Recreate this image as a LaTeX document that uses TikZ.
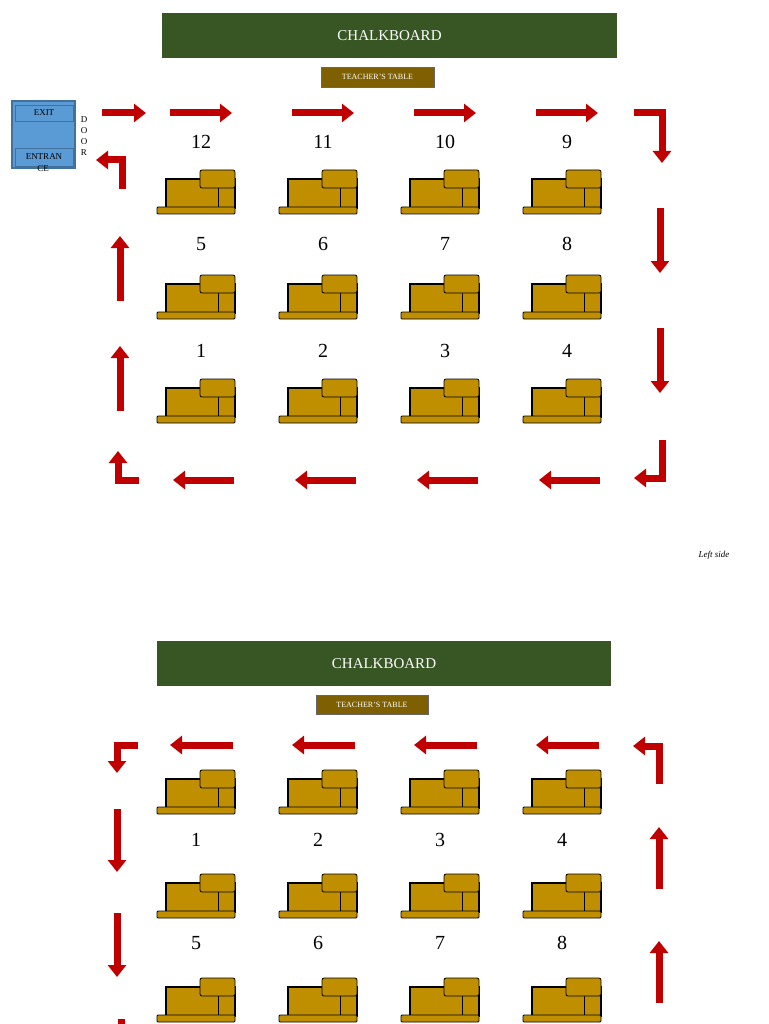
\documentclass[tikz,border=0pt]{standalone}
\usepackage{fontspec}
\setmainfont{Liberation Serif}
\usetikzlibrary{arrows.meta}
\definecolor{board}{HTML}{375623}
\definecolor{ttable}{HTML}{7F6000}
\definecolor{desk}{HTML}{BF8F00}
\definecolor{arr}{HTML}{C00000}
\definecolor{doorf}{HTML}{5B9BD5}
\definecolor{doord}{HTML}{41719C}
\tikzset{
 x=1pt,y=-1pt,
 ra/.style={draw=arr,line width=7pt,line join=miter,-{Triangle[length=12pt,width=18pt]}},
 num/.style={font=\fontsize{20}{20}\selectfont},
 pics/deskpic/.style={code={
  \draw[fill=desk,line width=1.2pt] (9,9) rectangle (78,38);
  \draw[line width=0.8pt] (61,18) -- (61,38);
  \draw[fill=desk,line width=0.8pt,rounded corners=2pt] (43,0) rectangle (78,18);
  \draw[fill=desk,line width=0.8pt,rounded corners=1pt] (0,37) rectangle (78,44);
 }}
}
\begin{document}
\begin{tikzpicture}
\useasboundingbox (0,0) rectangle (768,1024);
% top section
\node[fill=board,minimum width=455pt,minimum height=45pt,text=white,font=\fontsize{15}{15}\selectfont] (cb1) at (389.5,35.5) {CHALKBOARD};
\node[fill=ttable,draw=black!60,minimum width=113pt,minimum height=20pt,text=white,font=\fontsize{8}{8}\selectfont,inner sep=0pt] (tt1) at (377.5,77) {TEACHER'S TABLE};
\node[fill=doorf,draw=doord,line width=2pt,minimum width=63pt,minimum height=67pt] (door) at (43,135) {};
\node[fill=doorf,draw=doord,minimum width=58pt,minimum height=16pt,inner sep=0pt,font=\fontsize{9}{9}\selectfont] (exit) at (44,113) {EXIT};
\node[fill=doorf,draw=doord,minimum width=58pt,minimum height=18pt,inner sep=0pt,font=\fontsize{9}{9}\selectfont] (ent) at (44,157) {ENTRAN};
\node[font=\fontsize{9}{9}\selectfont] (ce) at (43,169) {CE};
\node[font=\fontsize{9}{9}\selectfont,align=center,inner sep=0pt] (dr) at (84,136) {D\\[2pt]O\\[2pt]O\\[2pt]R};
\foreach \xx/\a/\b/\c in {157/12/5/1,279/11/6/2,401/10/7/3,523/9/8/4}{
 \pic at (\xx,170) {deskpic};
 \pic at (\xx,275) {deskpic};
 \pic at (\xx,379) {deskpic};
 \node[num] at (\xx+44,142) {\a};
 \node[num] at (\xx+44,244) {\b};
 \node[num] at (\xx+44,351) {\c};
}
% arrows top section
\foreach \s/\e in {102/146,170/232,292/354,414/476,536/598}{\draw[ra] (\s,113) -- (\e,113);}
\draw[ra] (634,113) -- (662,113) -- (662,163);
\foreach \s/\e in {208/273,328/393}{\draw[ra] (660,\s) -- (660,\e);}
\draw[ra] (662,440) -- (662,478) -- (634,478);
\foreach \s/\e in {600/539,478/417,356/295,234/173}{\draw[ra] (\s,480) -- (\e,480);}
\draw[ra] (139,480) -- (118,480) -- (118,451);
\foreach \s/\e in {411/346,301/236}{\draw[ra] (120,\s) -- (120,\e);}
\draw[ra] (122,189) -- (122,160) -- (96,160);
\node[font=\itshape\fontsize{9}{9}\selectfont] (ls) at (714,555) {Left side};
% bottom section
\node[fill=board,minimum width=454pt,minimum height=45pt,text=white,font=\fontsize{15}{15}\selectfont] (cb2) at (384,663.5) {CHALKBOARD};
\node[fill=ttable,draw=black!60,minimum width=112pt,minimum height=19pt,text=white,font=\fontsize{8}{8}\selectfont,inner sep=0pt] (tt2) at (372,704.5) {TEACHER'S TABLE};
\foreach \xx/\a/\b in {157/1/5,279/2/6,401/3/7,523/4/8}{
 \pic at (\xx,770) {deskpic};
 \pic at (\xx,874) {deskpic};
 \pic at (\xx,978) {deskpic};
 \node[num] at (\xx+39,840) {\a};
 \node[num] at (\xx+39,943) {\b};
}
\foreach \s/\e in {233/170,355/292,477/414,599/536}{\draw[ra] (\s,745) -- (\e,745);}
\draw[ra] (138,745) -- (117,745) -- (117,773);
\foreach \s/\e in {809/872,913/977}{\draw[ra] (117,\s) -- (117,\e);}
\draw[draw=arr,line width=7pt] (121,1019) -- (121,1030);
\draw[ra] (659,784) -- (659,746) -- (633,746);
\foreach \s/\e in {889/827,1003/941}{\draw[ra] (659,\s) -- (659,\e);}
\end{tikzpicture}
\end{document}
